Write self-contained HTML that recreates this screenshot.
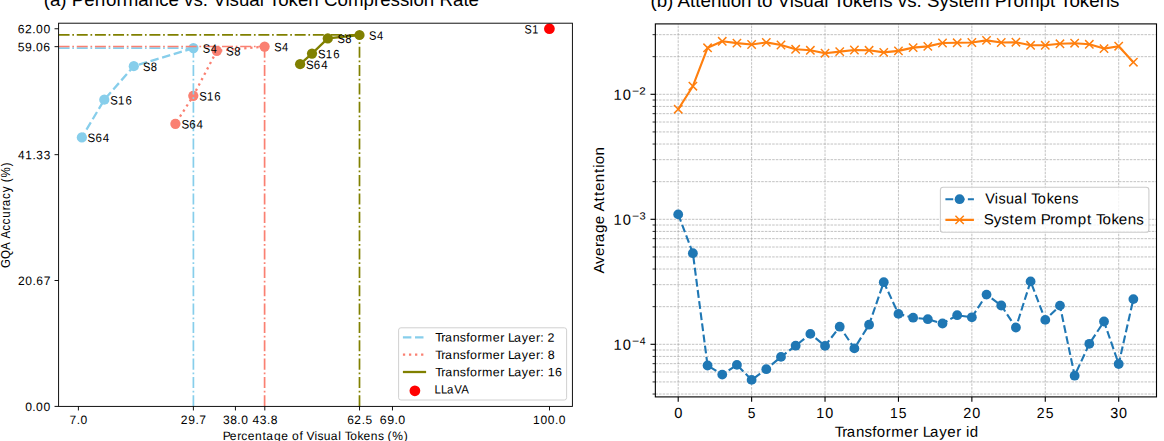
<!DOCTYPE html>
<html><head><meta charset="utf-8"><style>
html,body{margin:0;padding:0;background:#fff;}
svg{display:block;font-family:"Liberation Sans", sans-serif;}
</style></head><body>
<svg width="1164" height="441" viewBox="0 0 1164 441">
<rect width="1164" height="441" fill="#fff"/>
<g>
<clipPath id="cl"><rect x="58.6" y="23.2" width="513.8" height="383.2"/></clipPath>
<g clip-path="url(#cl)">
<polyline points="193.40,48.10 133.80,66.20 104.30,99.70 81.85,137.40" fill="none" stroke="#87ceeb" stroke-width="2.286" stroke-linejoin="round" stroke-dasharray="8.46 3.66" />
<circle cx="81.85" cy="137.4" r="5.12" fill="#87ceeb"/>
<circle cx="104.3" cy="99.7" r="5.12" fill="#87ceeb"/>
<circle cx="133.8" cy="66.2" r="5.12" fill="#87ceeb"/>
<circle cx="193.4" cy="48.1" r="5.12" fill="#87ceeb"/>
<polyline points="264.60,46.60 216.80,50.80 193.30,95.80 175.40,123.80" fill="none" stroke="#fa8072" stroke-width="2.286" stroke-linejoin="round" stroke-dasharray="2.29 3.77" />
<circle cx="175.4" cy="123.8" r="5.12" fill="#fa8072"/>
<circle cx="193.3" cy="95.8" r="5.12" fill="#fa8072"/>
<circle cx="216.8" cy="50.8" r="5.12" fill="#fa8072"/>
<circle cx="264.6" cy="46.6" r="5.12" fill="#fa8072"/>
<polyline points="300.10,64.20 312.00,53.60 327.80,38.40 359.50,35.00" fill="none" stroke="#808000" stroke-width="2.286" stroke-linejoin="round" />
<circle cx="300.1" cy="64.2" r="5.12" fill="#808000"/>
<circle cx="312.0" cy="53.6" r="5.12" fill="#808000"/>
<circle cx="327.8" cy="38.4" r="5.12" fill="#808000"/>
<circle cx="359.5" cy="35.0" r="5.12" fill="#808000"/>
<circle cx="549.4" cy="28.7" r="5.37" fill="#ff0000"/>
<polyline points="58.60,48.10 193.40,48.10" fill="none" stroke="#87ceeb" stroke-width="1.714" stroke-linejoin="round" stroke-dasharray="10.97 2.74 1.71 2.74" />
<polyline points="193.40,406.40 193.40,48.10" fill="none" stroke="#87ceeb" stroke-width="1.714" stroke-linejoin="round" stroke-dasharray="11.08 2.77 1.73 2.77" />
<polyline points="58.60,46.50 264.60,46.50" fill="none" stroke="#fa8072" stroke-width="1.714" stroke-linejoin="round" stroke-dasharray="10.97 2.74 1.71 2.74" />
<polyline points="264.60,406.40 264.60,46.60" fill="none" stroke="#fa8072" stroke-width="1.714" stroke-linejoin="round" stroke-dasharray="11.08 2.77 1.73 2.77" />
<polyline points="58.60,34.90 359.50,34.90" fill="none" stroke="#808000" stroke-width="1.714" stroke-linejoin="round" stroke-dasharray="10.97 2.74 1.71 2.74" />
<polyline points="359.50,406.40 359.50,35.00" fill="none" stroke="#808000" stroke-width="1.714" stroke-linejoin="round" stroke-dasharray="11.08 2.77 1.73 2.77" />
</g>
<text x="92.41 100.73 108.44" y="142.10" font-size="12.19" fill="#000" transform="rotate(0.03 88.5 142.1) scale(0.9479,1)" >S64</text>
<text x="118.25 126.64 134.54" y="104.40" font-size="12.19" fill="#000" transform="rotate(0.03 111.1 104.4) scale(0.9325,1)" >S16</text>
<text x="156.20 164.79" y="70.90" font-size="12.19" fill="#000" transform="rotate(0.03 143.7 70.9) scale(0.9151,1)" >S8</text>
<text x="222.17 230.77" y="52.80" font-size="12.19" fill="#000" transform="rotate(0.03 203.6 52.8) scale(0.9130,1)" >S4</text>
<text x="191.36 199.68 207.40" y="128.50" font-size="12.19" fill="#000" transform="rotate(0.03 182.3 128.5) scale(0.9479,1)" >S64</text>
<text x="213.59 221.98 229.88" y="100.50" font-size="12.19" fill="#000" transform="rotate(0.03 200.0 100.5) scale(0.9325,1)" >S16</text>
<text x="247.34 255.93" y="55.50" font-size="12.19" fill="#000" transform="rotate(0.03 227.1 55.5) scale(0.9151,1)" >S8</text>
<text x="300.37 308.97" y="51.30" font-size="12.19" fill="#000" transform="rotate(0.03 275.0 51.3) scale(0.9130,1)" >S4</text>
<text x="322.80 331.12 338.84" y="68.90" font-size="12.19" fill="#000" transform="rotate(0.03 306.9 68.9) scale(0.9479,1)" >S64</text>
<text x="341.00 349.38 357.29" y="58.30" font-size="12.19" fill="#000" transform="rotate(0.03 318.8 58.3) scale(0.9325,1)" >S16</text>
<text x="368.74 377.33" y="43.10" font-size="12.19" fill="#000" transform="rotate(0.03 338.2 43.1) scale(0.9151,1)" >S8</text>
<text x="404.20 412.80" y="39.70" font-size="12.19" fill="#000" transform="rotate(0.03 369.8 39.7) scale(0.9130,1)" >S4</text>
<text x="590.76 599.54" y="33.40" font-size="12.19" fill="#000" transform="rotate(0.03 525.2 33.4) scale(0.8879,1)" >S1</text>
<rect x="398.6" y="327.8" width="168.0" height="72.2" rx="2.3" fill="#fff" fill-opacity="0.8" stroke="#cccccc" stroke-width="0.93"/>
<polyline points="402.90,337.40 426.10,337.40" fill="none" stroke="#87ceeb" stroke-width="2.286" stroke-linejoin="round" stroke-dasharray="8.46 3.66" />
<polyline points="402.90,354.70 426.10,354.70" fill="none" stroke="#fa8072" stroke-width="2.286" stroke-linejoin="round" stroke-dasharray="2.29 3.77" />
<polyline points="402.90,372.00 426.10,372.00" fill="none" stroke="#808000" stroke-width="2.286" stroke-linejoin="round" />
<circle cx="414.9" cy="390.8" r="5.37" fill="#ff0000"/>
<text x="426.45 432.45 436.22 443.70 450.61 456.94 460.54 467.87 472.25 482.89 490.22 494.35 497.91 503.85 511.41 517.89 525.22 529.37 532.96 536.59" y="341.60" font-size="12.19" fill="#000" transform="rotate(0.03 435.4 341.6) scale(1.0204,1)" >Transformer Layer: 2</text>
<text x="425.24 431.23 434.99 442.45 449.33 455.65 459.24 466.55 470.91 481.52 488.83 492.97 496.50 502.42 509.96 516.43 523.74 527.88 531.46 535.22" y="359.00" font-size="12.19" fill="#000" transform="rotate(0.03 435.4 359.0) scale(1.0233,1)" >Transformer Layer: 8</text>
<text x="426.34 432.34 436.11 443.59 450.49 456.83 460.42 467.75 472.13 482.77 490.09 494.23 497.79 503.72 511.28 517.76 525.09 529.24 532.82 536.53 543.77" y="376.30" font-size="12.19" fill="#000" transform="rotate(0.03 435.4 376.3) scale(1.0207,1)" >Transformer Layer: 16</text>
<text x="462.44 469.25 475.69 483.40 490.99" y="393.60" font-size="12.19" fill="#000" transform="rotate(0.03 435.4 393.6) scale(0.9397,1)" >LLaVA</text>
<rect x="58.6" y="23.2" width="513.8" height="383.2" fill="none" stroke="#000" stroke-width="0.93"/>
<line x1="78.40" y1="406.4" x2="78.40" y2="410.46" stroke="#000" stroke-width="0.93"/>
<text x="70.32 77.59 81.45" y="423.90" font-size="12.19" fill="#000" transform="rotate(0.03 70.1 423.9) scale(0.9877,1)" >7.0</text>
<line x1="193.39" y1="406.4" x2="193.39" y2="410.46" stroke="#000" stroke-width="0.93"/>
<text x="182.82 190.34 197.61 201.45" y="423.90" font-size="12.19" fill="#000" transform="rotate(0.03 181.5 423.9) scale(0.9890,1)" >29.7</text>
<line x1="235.43" y1="406.4" x2="235.43" y2="410.46" stroke="#000" stroke-width="0.93"/>
<text x="225.72 233.11 240.36 244.22" y="423.90" font-size="12.19" fill="#000" transform="rotate(0.03 223.5 423.9) scale(0.9875,1)" >38.0</text>
<line x1="264.81" y1="406.4" x2="264.81" y2="410.46" stroke="#000" stroke-width="0.93"/>
<text x="255.58 263.01 270.24 274.10" y="423.90" font-size="12.19" fill="#000" transform="rotate(0.03 252.7 423.9) scale(0.9877,1)" >43.8</text>
<line x1="359.54" y1="406.4" x2="359.54" y2="410.46" stroke="#000" stroke-width="0.93"/>
<text x="354.82 362.14 369.59 373.46" y="423.90" font-size="12.19" fill="#000" transform="rotate(0.03 347.6 423.9) scale(0.9785,1)" >62.5</text>
<line x1="392.47" y1="406.4" x2="392.47" y2="410.46" stroke="#000" stroke-width="0.93"/>
<text x="373.37 380.53 387.65 391.35" y="423.90" font-size="12.19" fill="#000" transform="rotate(0.03 380.4 423.9) scale(1.0174,1)" >69.0</text>
<line x1="549.50" y1="406.4" x2="549.50" y2="410.46" stroke="#000" stroke-width="0.93"/>
<text x="540.44 547.92 555.34 562.60 566.47" y="423.90" font-size="12.19" fill="#000" transform="rotate(0.03 534.1 423.9) scale(0.9863,1)" >100.0</text>
<line x1="54.54" y1="406.40" x2="58.6" y2="406.40" stroke="#000" stroke-width="0.93"/>
<text x="25.23 32.42 36.24 43.58" y="411.00" font-size="12.19" fill="#000" transform="rotate(0.03 25.6 411.0) scale(0.9965,1)" >0.00</text>
<line x1="54.54" y1="280.50" x2="58.6" y2="280.50" stroke="#000" stroke-width="0.93"/>
<text x="18.07 25.61 32.84 36.68 44.04" y="285.10" font-size="12.19" fill="#000" transform="rotate(0.03 18.6 285.1) scale(0.9909,1)" >20.67</text>
<line x1="54.54" y1="154.66" x2="58.6" y2="154.66" stroke="#000" stroke-width="0.93"/>
<text x="18.68 26.19 33.61 37.60 45.16" y="159.26" font-size="12.19" fill="#000" transform="rotate(0.03 18.3 159.3) scale(0.9675,1)" >41.33</text>
<line x1="54.54" y1="46.67" x2="58.6" y2="46.67" stroke="#000" stroke-width="0.93"/>
<text x="17.76 25.09 32.32 36.12 43.45" y="51.27" font-size="12.19" fill="#000" transform="rotate(0.03 18.4 51.3) scale(0.9985,1)" >59.06</text>
<line x1="54.54" y1="28.76" x2="58.6" y2="28.76" stroke="#000" stroke-width="0.93"/>
<text x="17.90 25.09 32.44 36.26 43.60" y="33.36" font-size="12.19" fill="#000" transform="rotate(0.03 18.3 33.4) scale(0.9960,1)" >62.00</text>
<text x="225.44 232.67 240.25 244.24 250.89 258.22 265.87 269.66 277.34 284.77 291.74 295.67 303.16 306.77 310.44 318.54 321.61 327.93 334.83 342.52 345.51 349.10 354.60 362.02 368.19 375.52 382.69 388.71 392.39 397.16 408.72" y="439.90" font-size="12.19" fill="#000" transform="rotate(0.03 224.1 439.9) scale(0.9876,1)" >Percentage of Visual Tokens (%)</text>
<text transform="rotate(-90) scale(0.9471,1)" x="-283.06 -273.56 -263.95 -255.73 -251.77 -243.61 -236.93 -229.96 -221.98 -217.81 -210.10 -203.02 -196.38 -192.48 -187.42 -175.58" y="10.30" font-size="12.19" fill="#000">GQA Accuracy (%)</text>
</g>
<clipPath id="cr"><rect x="655.35" y="23.9" width="501.15" height="373.0"/></clipPath>
<g clip-path="url(#cr)">
<line x1="655.35" y1="394.04" x2="1156.5" y2="394.04" stroke="#a6a6a6" stroke-width="0.69" stroke-dasharray="2.55 1.10"/>
<line x1="655.35" y1="381.93" x2="1156.5" y2="381.93" stroke="#a6a6a6" stroke-width="0.69" stroke-dasharray="2.55 1.10"/>
<line x1="655.35" y1="372.03" x2="1156.5" y2="372.03" stroke="#a6a6a6" stroke-width="0.69" stroke-dasharray="2.55 1.10"/>
<line x1="655.35" y1="363.66" x2="1156.5" y2="363.66" stroke="#a6a6a6" stroke-width="0.69" stroke-dasharray="2.55 1.10"/>
<line x1="655.35" y1="356.41" x2="1156.5" y2="356.41" stroke="#a6a6a6" stroke-width="0.69" stroke-dasharray="2.55 1.10"/>
<line x1="655.35" y1="350.02" x2="1156.5" y2="350.02" stroke="#a6a6a6" stroke-width="0.69" stroke-dasharray="2.55 1.10"/>
<line x1="655.35" y1="344.30" x2="1156.5" y2="344.30" stroke="#a6a6a6" stroke-width="0.69" stroke-dasharray="2.55 1.10"/>
<line x1="655.35" y1="306.67" x2="1156.5" y2="306.67" stroke="#a6a6a6" stroke-width="0.69" stroke-dasharray="2.55 1.10"/>
<line x1="655.35" y1="284.66" x2="1156.5" y2="284.66" stroke="#a6a6a6" stroke-width="0.69" stroke-dasharray="2.55 1.10"/>
<line x1="655.35" y1="269.04" x2="1156.5" y2="269.04" stroke="#a6a6a6" stroke-width="0.69" stroke-dasharray="2.55 1.10"/>
<line x1="655.35" y1="256.93" x2="1156.5" y2="256.93" stroke="#a6a6a6" stroke-width="0.69" stroke-dasharray="2.55 1.10"/>
<line x1="655.35" y1="247.03" x2="1156.5" y2="247.03" stroke="#a6a6a6" stroke-width="0.69" stroke-dasharray="2.55 1.10"/>
<line x1="655.35" y1="238.66" x2="1156.5" y2="238.66" stroke="#a6a6a6" stroke-width="0.69" stroke-dasharray="2.55 1.10"/>
<line x1="655.35" y1="231.41" x2="1156.5" y2="231.41" stroke="#a6a6a6" stroke-width="0.69" stroke-dasharray="2.55 1.10"/>
<line x1="655.35" y1="225.02" x2="1156.5" y2="225.02" stroke="#a6a6a6" stroke-width="0.69" stroke-dasharray="2.55 1.10"/>
<line x1="655.35" y1="219.30" x2="1156.5" y2="219.30" stroke="#a6a6a6" stroke-width="0.69" stroke-dasharray="2.55 1.10"/>
<line x1="655.35" y1="181.67" x2="1156.5" y2="181.67" stroke="#a6a6a6" stroke-width="0.69" stroke-dasharray="2.55 1.10"/>
<line x1="655.35" y1="159.66" x2="1156.5" y2="159.66" stroke="#a6a6a6" stroke-width="0.69" stroke-dasharray="2.55 1.10"/>
<line x1="655.35" y1="144.04" x2="1156.5" y2="144.04" stroke="#a6a6a6" stroke-width="0.69" stroke-dasharray="2.55 1.10"/>
<line x1="655.35" y1="131.93" x2="1156.5" y2="131.93" stroke="#a6a6a6" stroke-width="0.69" stroke-dasharray="2.55 1.10"/>
<line x1="655.35" y1="122.03" x2="1156.5" y2="122.03" stroke="#a6a6a6" stroke-width="0.69" stroke-dasharray="2.55 1.10"/>
<line x1="655.35" y1="113.66" x2="1156.5" y2="113.66" stroke="#a6a6a6" stroke-width="0.69" stroke-dasharray="2.55 1.10"/>
<line x1="655.35" y1="106.41" x2="1156.5" y2="106.41" stroke="#a6a6a6" stroke-width="0.69" stroke-dasharray="2.55 1.10"/>
<line x1="655.35" y1="100.02" x2="1156.5" y2="100.02" stroke="#a6a6a6" stroke-width="0.69" stroke-dasharray="2.55 1.10"/>
<line x1="655.35" y1="94.30" x2="1156.5" y2="94.30" stroke="#a6a6a6" stroke-width="0.69" stroke-dasharray="2.55 1.10"/>
<line x1="655.35" y1="56.67" x2="1156.5" y2="56.67" stroke="#a6a6a6" stroke-width="0.69" stroke-dasharray="2.55 1.10"/>
<line x1="655.35" y1="34.66" x2="1156.5" y2="34.66" stroke="#a6a6a6" stroke-width="0.69" stroke-dasharray="2.55 1.10"/>
<line x1="678.20" y1="396.9" x2="678.20" y2="23.9" stroke="#a6a6a6" stroke-width="0.69" stroke-dasharray="2.55 1.10"/>
<line x1="751.62" y1="396.9" x2="751.62" y2="23.9" stroke="#a6a6a6" stroke-width="0.69" stroke-dasharray="2.55 1.10"/>
<line x1="825.03" y1="396.9" x2="825.03" y2="23.9" stroke="#a6a6a6" stroke-width="0.69" stroke-dasharray="2.55 1.10"/>
<line x1="898.45" y1="396.9" x2="898.45" y2="23.9" stroke="#a6a6a6" stroke-width="0.69" stroke-dasharray="2.55 1.10"/>
<line x1="971.86" y1="396.9" x2="971.86" y2="23.9" stroke="#a6a6a6" stroke-width="0.69" stroke-dasharray="2.55 1.10"/>
<line x1="1045.28" y1="396.9" x2="1045.28" y2="23.9" stroke="#a6a6a6" stroke-width="0.69" stroke-dasharray="2.55 1.10"/>
<line x1="1118.69" y1="396.9" x2="1118.69" y2="23.9" stroke="#a6a6a6" stroke-width="0.69" stroke-dasharray="2.55 1.10"/>
<polyline points="678.20,214.40 692.88,253.20 707.57,365.50 722.25,374.60 736.93,364.90 751.62,379.90 766.30,369.20 780.98,356.90 795.66,345.70 810.35,333.90 825.03,345.90 839.71,326.70 854.40,348.40 869.08,324.70 883.76,282.20 898.45,313.90 913.13,317.70 927.81,319.20 942.49,323.50 957.18,315.20 971.86,317.30 986.54,294.60 1001.23,305.50 1015.91,327.50 1030.59,281.40 1045.28,319.90 1059.96,305.60 1074.64,375.70 1089.32,343.80 1104.01,321.50 1118.69,364.00 1133.37,299.10" fill="none" stroke="#1f77b4" stroke-width="2.12" stroke-linejoin="round" stroke-dasharray="7.84 3.39" />
<circle cx="678.20" cy="214.4" r="4.9" fill="#1f77b4"/>
<circle cx="692.88" cy="253.2" r="4.9" fill="#1f77b4"/>
<circle cx="707.57" cy="365.5" r="4.9" fill="#1f77b4"/>
<circle cx="722.25" cy="374.6" r="4.9" fill="#1f77b4"/>
<circle cx="736.93" cy="364.9" r="4.9" fill="#1f77b4"/>
<circle cx="751.62" cy="379.9" r="4.9" fill="#1f77b4"/>
<circle cx="766.30" cy="369.2" r="4.9" fill="#1f77b4"/>
<circle cx="780.98" cy="356.9" r="4.9" fill="#1f77b4"/>
<circle cx="795.66" cy="345.7" r="4.9" fill="#1f77b4"/>
<circle cx="810.35" cy="333.9" r="4.9" fill="#1f77b4"/>
<circle cx="825.03" cy="345.9" r="4.9" fill="#1f77b4"/>
<circle cx="839.71" cy="326.7" r="4.9" fill="#1f77b4"/>
<circle cx="854.40" cy="348.4" r="4.9" fill="#1f77b4"/>
<circle cx="869.08" cy="324.7" r="4.9" fill="#1f77b4"/>
<circle cx="883.76" cy="282.2" r="4.9" fill="#1f77b4"/>
<circle cx="898.45" cy="313.9" r="4.9" fill="#1f77b4"/>
<circle cx="913.13" cy="317.7" r="4.9" fill="#1f77b4"/>
<circle cx="927.81" cy="319.2" r="4.9" fill="#1f77b4"/>
<circle cx="942.49" cy="323.5" r="4.9" fill="#1f77b4"/>
<circle cx="957.18" cy="315.2" r="4.9" fill="#1f77b4"/>
<circle cx="971.86" cy="317.3" r="4.9" fill="#1f77b4"/>
<circle cx="986.54" cy="294.6" r="4.9" fill="#1f77b4"/>
<circle cx="1001.23" cy="305.5" r="4.9" fill="#1f77b4"/>
<circle cx="1015.91" cy="327.5" r="4.9" fill="#1f77b4"/>
<circle cx="1030.59" cy="281.4" r="4.9" fill="#1f77b4"/>
<circle cx="1045.28" cy="319.9" r="4.9" fill="#1f77b4"/>
<circle cx="1059.96" cy="305.6" r="4.9" fill="#1f77b4"/>
<circle cx="1074.64" cy="375.7" r="4.9" fill="#1f77b4"/>
<circle cx="1089.32" cy="343.8" r="4.9" fill="#1f77b4"/>
<circle cx="1104.01" cy="321.5" r="4.9" fill="#1f77b4"/>
<circle cx="1118.69" cy="364.0" r="4.9" fill="#1f77b4"/>
<circle cx="1133.37" cy="299.1" r="4.9" fill="#1f77b4"/>
<polyline points="678.20,109.20 692.88,86.20 707.57,47.80 722.25,41.30 736.93,43.10 751.62,44.50 766.30,42.40 780.98,45.00 795.66,49.30 810.35,50.30 825.03,53.20 839.71,51.60 854.40,50.00 869.08,50.30 883.76,52.40 898.45,50.90 913.13,47.60 927.81,46.40 942.49,43.00 957.18,42.80 971.86,42.50 986.54,40.40 1001.23,42.50 1015.91,42.20 1030.59,45.30 1045.28,45.30 1059.96,43.80 1074.64,43.20 1089.32,44.30 1104.01,48.60 1118.69,46.20 1133.37,62.20" fill="none" stroke="#ff7f0e" stroke-width="2.12" stroke-linejoin="round" />
<path d="M674.03,105.03L682.37,113.37M674.03,113.37L682.37,105.03" stroke="#ff7f0e" stroke-width="1.45" fill="none"/>
<path d="M688.71,82.03L697.05,90.37M688.71,90.37L697.05,82.03" stroke="#ff7f0e" stroke-width="1.45" fill="none"/>
<path d="M703.40,43.63L711.74,51.97M703.40,51.97L711.74,43.63" stroke="#ff7f0e" stroke-width="1.45" fill="none"/>
<path d="M718.08,37.13L726.42,45.47M718.08,45.47L726.42,37.13" stroke="#ff7f0e" stroke-width="1.45" fill="none"/>
<path d="M732.76,38.93L741.10,47.27M732.76,47.27L741.10,38.93" stroke="#ff7f0e" stroke-width="1.45" fill="none"/>
<path d="M747.45,40.33L755.78,48.67M747.45,48.67L755.78,40.33" stroke="#ff7f0e" stroke-width="1.45" fill="none"/>
<path d="M762.13,38.23L770.47,46.57M762.13,46.57L770.47,38.23" stroke="#ff7f0e" stroke-width="1.45" fill="none"/>
<path d="M776.81,40.83L785.15,49.17M776.81,49.17L785.15,40.83" stroke="#ff7f0e" stroke-width="1.45" fill="none"/>
<path d="M791.49,45.13L799.83,53.47M791.49,53.47L799.83,45.13" stroke="#ff7f0e" stroke-width="1.45" fill="none"/>
<path d="M806.18,46.13L814.52,54.47M806.18,54.47L814.52,46.13" stroke="#ff7f0e" stroke-width="1.45" fill="none"/>
<path d="M820.86,49.03L829.20,57.37M820.86,57.37L829.20,49.03" stroke="#ff7f0e" stroke-width="1.45" fill="none"/>
<path d="M835.54,47.43L843.88,55.77M835.54,55.77L843.88,47.43" stroke="#ff7f0e" stroke-width="1.45" fill="none"/>
<path d="M850.23,45.83L858.57,54.17M850.23,54.17L858.57,45.83" stroke="#ff7f0e" stroke-width="1.45" fill="none"/>
<path d="M864.91,46.13L873.25,54.47M864.91,54.47L873.25,46.13" stroke="#ff7f0e" stroke-width="1.45" fill="none"/>
<path d="M879.59,48.23L887.93,56.57M879.59,56.57L887.93,48.23" stroke="#ff7f0e" stroke-width="1.45" fill="none"/>
<path d="M894.28,46.73L902.62,55.07M894.28,55.07L902.62,46.73" stroke="#ff7f0e" stroke-width="1.45" fill="none"/>
<path d="M908.96,43.43L917.30,51.77M908.96,51.77L917.30,43.43" stroke="#ff7f0e" stroke-width="1.45" fill="none"/>
<path d="M923.64,42.23L931.98,50.57M923.64,50.57L931.98,42.23" stroke="#ff7f0e" stroke-width="1.45" fill="none"/>
<path d="M938.32,38.83L946.66,47.17M938.32,47.17L946.66,38.83" stroke="#ff7f0e" stroke-width="1.45" fill="none"/>
<path d="M953.01,38.63L961.35,46.97M953.01,46.97L961.35,38.63" stroke="#ff7f0e" stroke-width="1.45" fill="none"/>
<path d="M967.69,38.33L976.03,46.67M967.69,46.67L976.03,38.33" stroke="#ff7f0e" stroke-width="1.45" fill="none"/>
<path d="M982.37,36.23L990.71,44.57M982.37,44.57L990.71,36.23" stroke="#ff7f0e" stroke-width="1.45" fill="none"/>
<path d="M997.06,38.33L1005.40,46.67M997.06,46.67L1005.40,38.33" stroke="#ff7f0e" stroke-width="1.45" fill="none"/>
<path d="M1011.74,38.03L1020.08,46.37M1011.74,46.37L1020.08,38.03" stroke="#ff7f0e" stroke-width="1.45" fill="none"/>
<path d="M1026.42,41.13L1034.76,49.47M1026.42,49.47L1034.76,41.13" stroke="#ff7f0e" stroke-width="1.45" fill="none"/>
<path d="M1041.11,41.13L1049.45,49.47M1041.11,49.47L1049.45,41.13" stroke="#ff7f0e" stroke-width="1.45" fill="none"/>
<path d="M1055.79,39.63L1064.13,47.97M1055.79,47.97L1064.13,39.63" stroke="#ff7f0e" stroke-width="1.45" fill="none"/>
<path d="M1070.47,39.03L1078.81,47.37M1070.47,47.37L1078.81,39.03" stroke="#ff7f0e" stroke-width="1.45" fill="none"/>
<path d="M1085.15,40.13L1093.49,48.47M1085.15,48.47L1093.49,40.13" stroke="#ff7f0e" stroke-width="1.45" fill="none"/>
<path d="M1099.84,44.43L1108.18,52.77M1099.84,52.77L1108.18,44.43" stroke="#ff7f0e" stroke-width="1.45" fill="none"/>
<path d="M1114.52,42.03L1122.86,50.37M1114.52,50.37L1122.86,42.03" stroke="#ff7f0e" stroke-width="1.45" fill="none"/>
<path d="M1129.20,58.03L1137.54,66.37M1129.20,66.37L1137.54,58.03" stroke="#ff7f0e" stroke-width="1.45" fill="none"/>
<rect x="940.4" y="187.2" width="208.5" height="45.1" rx="2.8" fill="#fff" fill-opacity="0.8" stroke="#cccccc" stroke-width="1.1"/>
<polyline points="945.40,199.20 973.90,199.20" fill="none" stroke="#1f77b4" stroke-width="2.12" stroke-linejoin="round" stroke-dasharray="7.84 3.39" />
<circle cx="959.6" cy="199.2" r="4.9" fill="#1f77b4"/>
<polyline points="945.40,219.90 973.90,219.90" fill="none" stroke="#ff7f0e" stroke-width="2.12" stroke-linejoin="round" />
<path d="M955.43,215.73L963.77,224.07M955.43,224.07L963.77,215.73" stroke="#ff7f0e" stroke-width="1.45" fill="none"/>
<text x="1004.78 1014.62 1018.36 1026.06 1034.45 1043.79 1047.41 1051.81 1058.51 1067.53 1075.04 1083.95 1092.67" y="203.50" font-size="14.73" fill="#000" transform="rotate(0.03 985.3 203.5) scale(0.9805,1)" >Visual Tokens</text>
<text x="958.25 967.81 975.54 983.30 988.22 997.08 1009.86 1013.66 1022.86 1027.68 1036.54 1049.66 1058.63 1063.40 1067.45 1073.90 1082.57 1089.79 1098.35 1106.75" y="224.30" font-size="14.73" fill="#000" transform="rotate(0.03 985.3 224.3) scale(1.0267,1)" >System Prompt Tokens</text>
</g>
<rect x="655.35" y="23.9" width="501.15" height="373.0" fill="none" stroke="#000" stroke-width="1.11"/>
<line x1="678.20" y1="396.9" x2="678.20" y2="401.76" stroke="#000" stroke-width="1.11"/>
<text x="677.61" y="417.90" font-size="14.73" fill="#000" transform="rotate(0.03 674.7 417.9) scale(0.9949,1)" >0</text>
<line x1="751.62" y1="396.9" x2="751.62" y2="401.76" stroke="#000" stroke-width="1.11"/>
<text x="796.45" y="417.90" font-size="14.73" fill="#000" transform="rotate(0.03 748.3 417.9) scale(0.9389,1)" >5</text>
<line x1="825.03" y1="396.9" x2="825.03" y2="401.76" stroke="#000" stroke-width="1.11"/>
<text x="838.32 847.48" y="417.90" font-size="14.73" fill="#000" transform="rotate(0.03 817.4 417.9) scale(0.9737,1)" >10</text>
<line x1="898.45" y1="396.9" x2="898.45" y2="401.76" stroke="#000" stroke-width="1.11"/>
<text x="942.46 951.83" y="417.90" font-size="14.73" fill="#000" transform="rotate(0.03 891.0 417.9) scale(0.9443,1)" >15</text>
<line x1="971.86" y1="396.9" x2="971.86" y2="401.76" stroke="#000" stroke-width="1.11"/>
<text x="985.55 994.79" y="417.90" font-size="14.73" fill="#000" transform="rotate(0.03 964.0 417.9) scale(0.9773,1)" >20</text>
<line x1="1045.28" y1="396.9" x2="1045.28" y2="401.76" stroke="#000" stroke-width="1.11"/>
<text x="1092.93 1102.39" y="417.90" font-size="14.73" fill="#000" transform="rotate(0.03 1037.5 417.9) scale(0.9487,1)" >25</text>
<line x1="1118.69" y1="396.9" x2="1118.69" y2="401.76" stroke="#000" stroke-width="1.11"/>
<text x="1138.43 1147.48" y="417.90" font-size="14.73" fill="#000" transform="rotate(0.03 1110.8 417.9) scale(0.9752,1)" >30</text>
<line x1="652.57" y1="394.04" x2="655.35" y2="394.04" stroke="#000" stroke-width="0.83"/>
<line x1="652.57" y1="381.93" x2="655.35" y2="381.93" stroke="#000" stroke-width="0.83"/>
<line x1="652.57" y1="372.03" x2="655.35" y2="372.03" stroke="#000" stroke-width="0.83"/>
<line x1="652.57" y1="363.66" x2="655.35" y2="363.66" stroke="#000" stroke-width="0.83"/>
<line x1="652.57" y1="356.41" x2="655.35" y2="356.41" stroke="#000" stroke-width="0.83"/>
<line x1="652.57" y1="350.02" x2="655.35" y2="350.02" stroke="#000" stroke-width="0.83"/>
<line x1="650.49" y1="344.30" x2="655.35" y2="344.30" stroke="#000" stroke-width="1.11"/>
<text x="615.54 624.70" y="349.80" font-size="14.73" fill="#000" transform="rotate(0.03 614.8 349.8) scale(0.9969,1)" >10</text>
<text x="526.58" y="344.50" font-size="10.28" fill="#000" transform="rotate(0.03 632.4 344.5) scale(1.2000,1)" >−</text>
<text x="625.08" y="344.50" font-size="10.28" fill="#000" transform="rotate(0.03 639.9 344.5) scale(1.0233,1)" >4</text>
<line x1="652.57" y1="306.67" x2="655.35" y2="306.67" stroke="#000" stroke-width="0.83"/>
<line x1="652.57" y1="284.66" x2="655.35" y2="284.66" stroke="#000" stroke-width="0.83"/>
<line x1="652.57" y1="269.04" x2="655.35" y2="269.04" stroke="#000" stroke-width="0.83"/>
<line x1="652.57" y1="256.93" x2="655.35" y2="256.93" stroke="#000" stroke-width="0.83"/>
<line x1="652.57" y1="247.03" x2="655.35" y2="247.03" stroke="#000" stroke-width="0.83"/>
<line x1="652.57" y1="238.66" x2="655.35" y2="238.66" stroke="#000" stroke-width="0.83"/>
<line x1="652.57" y1="231.41" x2="655.35" y2="231.41" stroke="#000" stroke-width="0.83"/>
<line x1="652.57" y1="225.02" x2="655.35" y2="225.02" stroke="#000" stroke-width="0.83"/>
<line x1="650.49" y1="219.30" x2="655.35" y2="219.30" stroke="#000" stroke-width="1.11"/>
<text x="615.54 624.70" y="224.80" font-size="14.73" fill="#000" transform="rotate(0.03 614.8 224.8) scale(0.9969,1)" >10</text>
<text x="526.58" y="219.50" font-size="10.28" fill="#000" transform="rotate(0.03 632.4 219.5) scale(1.2000,1)" >−</text>
<text x="587.96" y="219.50" font-size="10.28" fill="#000" transform="rotate(0.03 639.9 219.5) scale(1.0876,1)" >3</text>
<line x1="652.57" y1="181.67" x2="655.35" y2="181.67" stroke="#000" stroke-width="0.83"/>
<line x1="652.57" y1="159.66" x2="655.35" y2="159.66" stroke="#000" stroke-width="0.83"/>
<line x1="652.57" y1="144.04" x2="655.35" y2="144.04" stroke="#000" stroke-width="0.83"/>
<line x1="652.57" y1="131.93" x2="655.35" y2="131.93" stroke="#000" stroke-width="0.83"/>
<line x1="652.57" y1="122.03" x2="655.35" y2="122.03" stroke="#000" stroke-width="0.83"/>
<line x1="652.57" y1="113.66" x2="655.35" y2="113.66" stroke="#000" stroke-width="0.83"/>
<line x1="652.57" y1="106.41" x2="655.35" y2="106.41" stroke="#000" stroke-width="0.83"/>
<line x1="652.57" y1="100.02" x2="655.35" y2="100.02" stroke="#000" stroke-width="0.83"/>
<line x1="650.49" y1="94.30" x2="655.35" y2="94.30" stroke="#000" stroke-width="1.11"/>
<text x="615.54 624.70" y="99.80" font-size="14.73" fill="#000" transform="rotate(0.03 614.8 99.8) scale(0.9969,1)" >10</text>
<text x="526.58" y="94.50" font-size="10.28" fill="#000" transform="rotate(0.03 632.4 94.5) scale(1.2000,1)" >−</text>
<text x="564.81" y="94.50" font-size="10.28" fill="#000" transform="rotate(0.03 639.9 94.5) scale(1.1319,1)" >2</text>
<line x1="652.57" y1="56.67" x2="655.35" y2="56.67" stroke="#000" stroke-width="0.83"/>
<line x1="652.57" y1="34.66" x2="655.35" y2="34.66" stroke="#000" stroke-width="0.83"/>
<text x="817.39 824.62 829.16 838.17 846.49 854.12 858.45 867.28 872.55 885.37 894.20 899.20 903.47 910.62 919.73 927.54 936.37 941.36 945.93 949.59" y="436.70" font-size="14.73" fill="#000" transform="rotate(0.03 835.1 436.7) scale(1.0213,1)" >Transformer Layer id</text>
<text transform="rotate(-90) scale(1.0311,1)" x="-265.16 -256.07 -248.28 -239.46 -234.94 -226.04 -217.47 -209.23 -205.21 -195.32 -190.01 -185.17 -176.70 -167.77 -162.78 -159.21 -150.75" y="603.90" font-size="14.73" fill="#000">Average Attention</text>
<text x="43.65" y="6.20" font-size="18.50" textLength="435.38" lengthAdjust="spacingAndGlyphs" fill="#000">(a) Performance vs. Visual Token Compression Rate</text>
<text x="650.45" y="6.50" font-size="18.50" textLength="469.02" lengthAdjust="spacingAndGlyphs" fill="#000">(b) Attention to Visual Tokens vs. System Prompt Tokens</text>
</svg></body></html>
